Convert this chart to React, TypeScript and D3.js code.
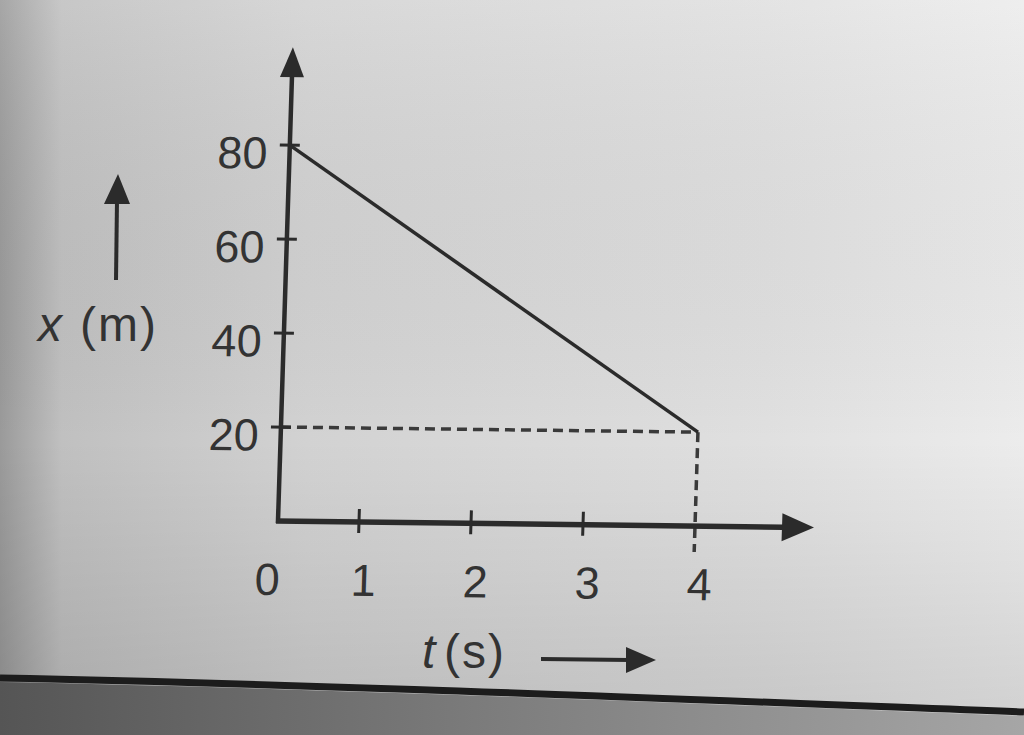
import React from 'react';
import * as d3 from 'd3';

// values
const timeTicks = [0, 1, 2, 3, 4];
const posTicks = [20, 40, 60, 80];
const motionT = [0, 4];
const motionX = [80, 20];

const W = 1024;
const H = 735;
const ink = '#2b2b2b';
const font = '"Liberation Sans", Arial, sans-serif';

const App = () => {
  // the printed axis has a short first interval, so the scale is piecewise
  const xScale = d3.scaleLinear().domain([0, 1, 4]).range([0, 81, 417]);
  const yScale = d3.scaleLinear().domain([0, 80]).range([0, -376]);

  const pts = motionT.map((t, i) => ({ t, x: motionX[i] }));
  const line = d3
    .line<{ t: number; x: number }>()
    .x((d) => xScale(d.t))
    .y((d) => yScale(d.x));

  const last = pts[pts.length - 1];
  const ex = xScale(last.t);
  const ey = yScale(last.x);

  return (
    <svg width={W} height={H} style={{ position: 'absolute', left: 0, top: 0 }}>
      <defs>
        <linearGradient id="paper" x1="0" y1="0" x2="1" y2="0">
          <stop offset="0" stopColor="#9a9a9a" />
          <stop offset="0.06" stopColor="#c0c0c0" />
          <stop offset="0.3" stopColor="#d2d2d2" />
          <stop offset="0.75" stopColor="#e0e0e0" />
          <stop offset="1" stopColor="#ececec" />
        </linearGradient>
        <linearGradient id="shade" x1="0" y1="0" x2="0" y2="1">
          <stop offset="0" stopColor="#fff" stopOpacity="0.12" />
          <stop offset="0.6" stopColor="#000" stopOpacity="0" />
          <stop offset="1" stopColor="#000" stopOpacity="0.12" />
        </linearGradient>
        <linearGradient id="under" x1="0" y1="0" x2="1" y2="0">
          <stop offset="0" stopColor="#555" />
          <stop offset="0.5" stopColor="#7e7e7e" />
          <stop offset="1" stopColor="#a6a6a6" />
        </linearGradient>
      </defs>
      <rect width={W} height={H} fill="url(#paper)" />
      <rect width={W} height={H} fill="url(#shade)" />
      <path d="M0,682 C300,688 600,700 1024,716 L1024,735 L0,735 Z" fill="url(#under)" />
      <path d="M0,678 C300,684 600,696 1024,712" stroke="#1c1c1c" strokeWidth={7} fill="none" />

      <g transform="translate(278,521) skewY(0.7) skewX(-1.8)">
        {/* dashed guides */}
        <line x1={0} y1={ey} x2={ex} y2={ey} stroke="#3a3a3a" strokeWidth={3.5} strokeDasharray="10 6" />
        <line x1={ex} y1={ey} x2={ex} y2={26} stroke="#3a3a3a" strokeWidth={3.5} strokeDasharray="10 6" />

        {/* axes */}
        <line x1={0} y1={2} x2={0} y2={-448} stroke={ink} strokeWidth={4.5} />
        <path d="M0,-474 L-12,-444 L12,-444 Z" fill={ink} />
        <line x1={-2} y1={0} x2={505} y2={0} stroke={ink} strokeWidth={5.5} />
        <path d="M536,0 L504,-14 L504,14 Z" fill={ink} />

        {posTicks.map((v) => (
          <g key={v} transform={`translate(0,${yScale(v)})`}>
            <line x1={-10} x2={10} stroke={ink} strokeWidth={3} />
            <text
              x={-22}
              y={8}
              dy="0.35em"
              textAnchor="end"
              fontFamily={font}
              fontSize={45}
              fill="#333"
            >
              {v}
            </text>
          </g>
        ))}

        {timeTicks.map((v) => (
          <g key={v} transform={`translate(${xScale(v)},0)`}>
            {v > 0 && v < 4 && <line y1={-13} y2={11} stroke={ink} strokeWidth={3} />}
            <text
              x={v === 0 ? -9 : 6}
              y={74}
              textAnchor="middle"
              fontFamily={font}
              fontSize={45}
              fill="#333"
            >
              {v}
            </text>
          </g>
        ))}

        <path d={line(pts) ?? ''} stroke={ink} strokeWidth={3.5} fill="none" />
      </g>

      {/* y-axis label */}
      <line x1={116} y1={280} x2={117} y2={200} stroke={ink} strokeWidth={4} />
      <path d="M118,174 L104,204 L130,204 Z" fill={ink} />
      <text y={341} fontFamily={font} fontSize={48} fill="#333">
        <tspan x={38} fontStyle="italic">x</tspan>
        <tspan x={80} letterSpacing={2}>(m)</tspan>
      </text>

      {/* x-axis label */}
      <text y={668} fontFamily={font} fontSize={48} fill="#333">
        <tspan x={422} fontStyle="italic">t</tspan>
        <tspan x={444} letterSpacing={2}>(s)</tspan>
      </text>
      <line x1={541} y1={659} x2={630} y2={660} stroke={ink} strokeWidth={4} />
      <path d="M656,660 L626,647 L626,673 Z" fill={ink} />
    </svg>
  );
};

export default App;
